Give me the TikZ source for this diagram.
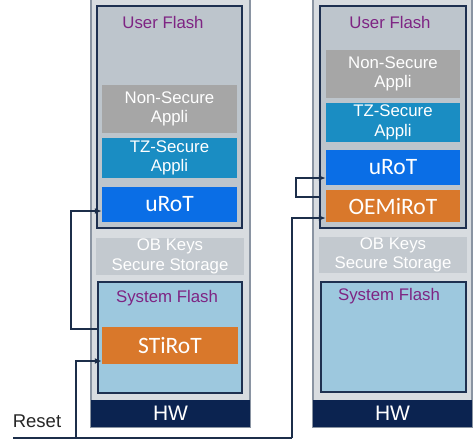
\documentclass[tikz,border=0pt]{standalone}
\usepackage{fontspec}
\setmainfont{Liberation Sans}
\newfontfamily\calib{Carlito}
\usetikzlibrary{arrows.meta,calc}
\definecolor{outerfill}{HTML}{D8DCE0}
\definecolor{outerdraw}{HTML}{8A94A2}
\definecolor{uffill}{HTML}{BDC5CC}
\definecolor{navy}{HTML}{1E3050}
\definecolor{nsfill}{HTML}{A6A6A6}
\definecolor{tzfill}{HTML}{1A8DC3}
\definecolor{urotfill}{HTML}{0A6EE6}
\definecolor{orng}{HTML}{D9782B}
\definecolor{obfill}{HTML}{C3C9CF}
\definecolor{sffill}{HTML}{9DC8DE}
\definecolor{hwfill}{HTML}{0B2350}
\definecolor{purp}{HTML}{7E2483}
\definecolor{wire}{HTML}{1C2E4A}
\tikzset{
  outerbox/.style={draw=outerdraw, fill=outerfill, line width=1.4pt, rectangle, inner sep=0pt},
  flashbox/.style={draw=navy, line width=1.2pt, rectangle, inner sep=0pt},
  blk/.style={rectangle, inner sep=0pt, text=white, align=center, font=\fontsize{16.8}{19.5}\selectfont},
  rot/.style={rectangle, inner sep=0pt, text=white, font=\calib\fontsize{23.5}{26}\selectfont},
  title/.style={text=purp, font=\fontsize{16.8}{19.5}\selectfont, inner sep=0pt},
  hwbox/.style={fill=hwfill, rectangle, inner sep=0pt, text=white, font=\fontsize{21}{24}\selectfont},
  wireline/.style={draw=wire, line width=1.6pt},
  arr/.style={wireline, -{Latex[length=7pt,width=6pt]}}
}
\begin{document}
\begin{tikzpicture}[x=1pt,y=-1pt]
\useasboundingbox (0,0) rectangle (474,445);
\fill[white] (0,0) rectangle (474,445);
\begin{scope}
\clip (0,0) rectangle (474,445);
% left column
\node[outerbox, minimum width=159pt, minimum height=436pt] (outerL) at (170.5,209) {};
\node[flashbox, fill=uffill, minimum width=145pt, minimum height=222pt] (ufL) at (169.5,117) {};
\node[title] (ufLt) at (163,22) {User Flash};
\node[blk, fill=nsfill, minimum width=135pt, minimum height=48pt] (nsL) at (169.5,109) {Non-Secure\\Appli};
\node[blk, fill=tzfill, minimum width=135pt, minimum height=40pt] (tzL) at (169.5,158) {TZ-Secure\\Appli};
\node[rot, fill=urotfill, minimum width=135pt, minimum height=35pt] (urotL) at (169.5,204.5) {uRoT};
\node[blk, fill=obfill, minimum width=148pt, minimum height=37pt] (obL) at (170,256.5) {OB Keys\\Secure Storage};
\node[flashbox, fill=sffill, minimum width=144pt, minimum height=111pt] (sfL) at (170,337.5) {};
\node[title] (sfLt) at (167,298) {System Flash};
\node[rot, fill=orng, minimum width=136pt, minimum height=37pt] (stL) at (170,345.5) {STiRoT};
\node[hwbox, minimum width=159pt, minimum height=27pt] (hwL) at (170.5,413.5) {HW};
% right column
\node[outerbox, minimum width=159pt, minimum height=436pt] (outerR) at (392.5,209) {};
\node[flashbox, fill=uffill, minimum width=146pt, minimum height=222pt] (ufR) at (393,117) {};
\node[title] (ufRt) at (390,22) {User Flash};
\node[blk, fill=nsfill, minimum width=134pt, minimum height=48pt] (nsR) at (393,74) {Non-Secure\\Appli};
\node[blk, fill=tzfill, minimum width=134pt, minimum height=39pt] (tzR) at (393,122.5) {TZ-Secure\\Appli};
\node[rot, fill=urotfill, minimum width=134pt, minimum height=35pt] (urotR) at (393,167.5) {uRoT};
\node[rot, fill=orng, minimum width=134pt, minimum height=32pt] (oemR) at (393,206) {OEMiRoT};
\node[blk, fill=obfill, minimum width=148pt, minimum height=36pt] (obR) at (393,255) {OB Keys\\Secure Storage};
\node[flashbox, fill=sffill, minimum width=145pt, minimum height=110pt] (sfR) at (393.5,337) {};
\node[title] (sfRt) at (389,296) {System Flash};
\node[hwbox, minimum width=159pt, minimum height=27pt] (hwR) at (392.5,413.5) {HW};
\end{scope}
% reset
\node[inner sep=0pt, font=\fontsize{18.5}{21}\selectfont, text=black!85] (reset) at (37,421) {Reset};
\coordinate (rsL) at (13,438);
\coordinate (rsR) at (292,438);
\coordinate (brL) at (76,438);
\draw[wireline] (rsL) -- (rsR);
% left connectors
\draw[arr] (brL) |- ($(stL.west)+(0,15.5)$);
\draw[arr] ($(sfL.west)+(0,-8.5)$) -| ($(urotL.west)+(-31,6.5)$) -- ($(urotL.west)+(0,6.5)$);
% right connectors
\draw[arr] (rsR) |- ($(oemR.west)+(0,12)$);
\draw[arr] ($(ufR.west)+(0,80)$) -| ($(urotR.west)+(-30,10.5)$) -- ($(urotR.west)+(0,10.5)$);
\end{tikzpicture}
\end{document}
